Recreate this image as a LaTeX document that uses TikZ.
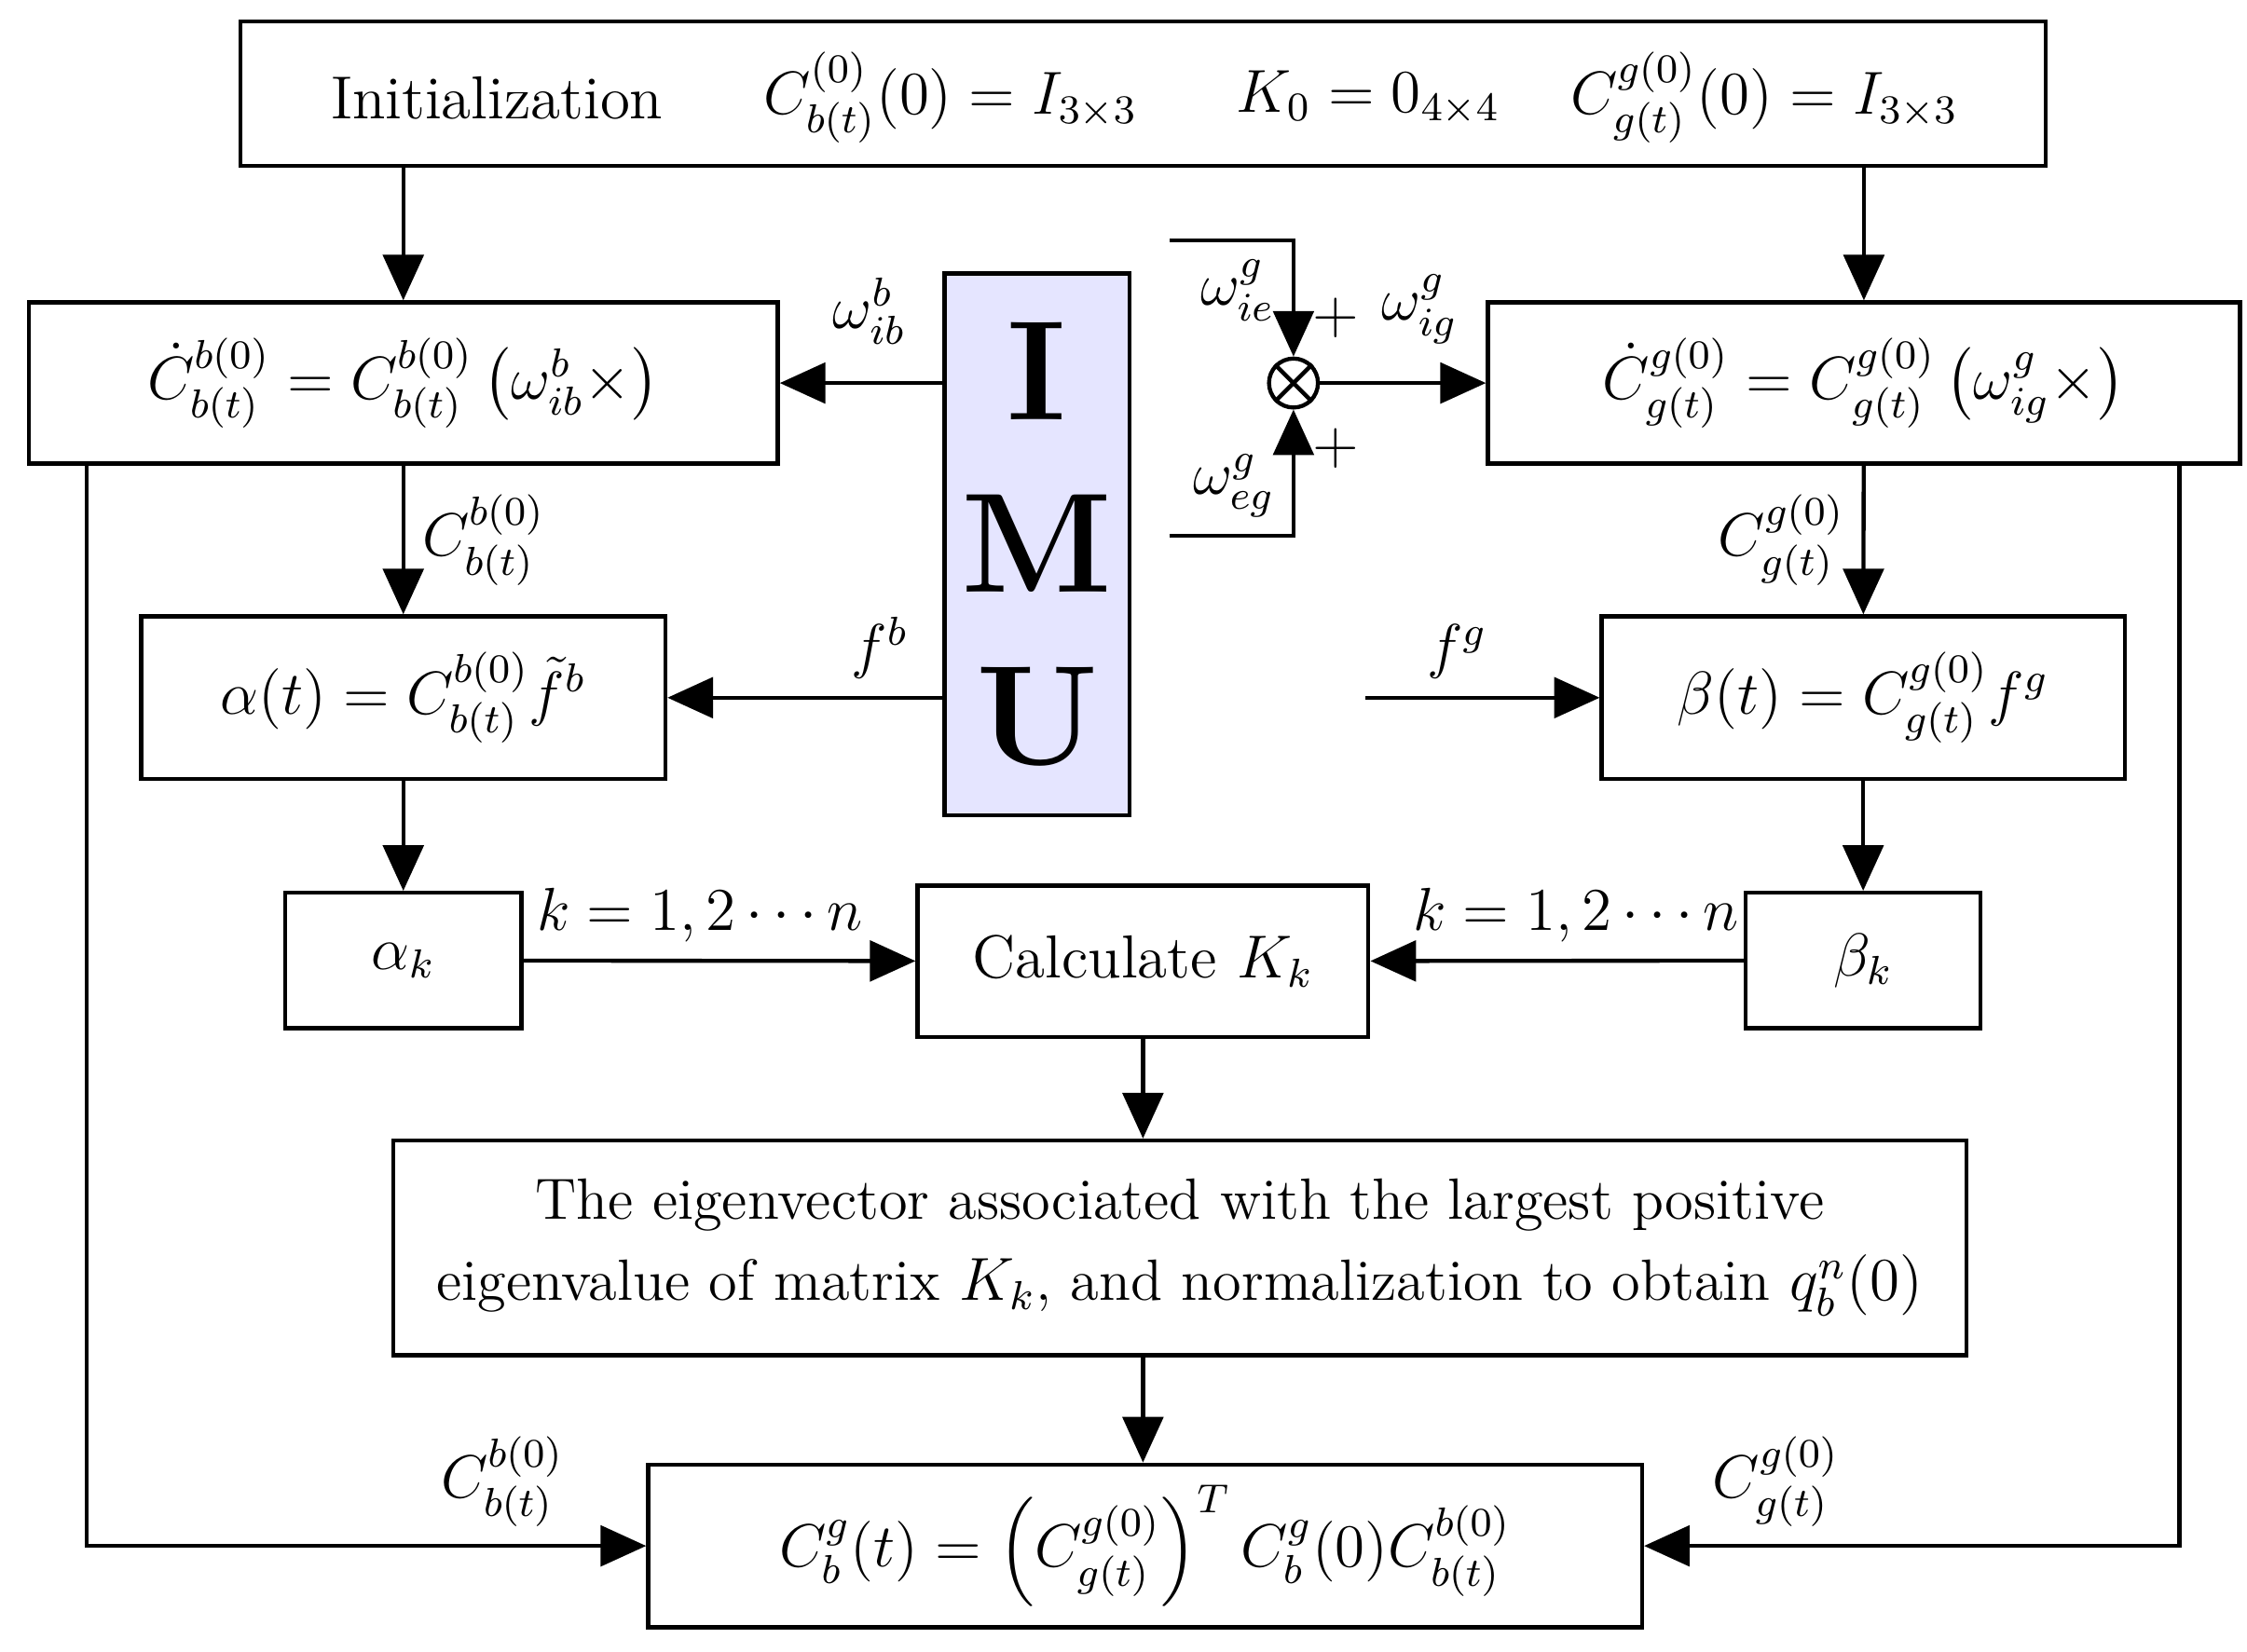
\documentclass[tikz,border=0pt]{standalone}
\usepackage{amsmath}
\usetikzlibrary{arrows.meta}
\tikzset{
  box/.style={draw,thick,inner sep=0pt,font=\fontsize{12}{15}\selectfont},
  arr/.style={thick,-{Triangle[length=9pt,width=8pt]}},
  lab/.style={font=\fontsize{12}{15}\selectfont}
}
\newcommand{\bx}[6]{\node[box,minimum width=#4cm,minimum height=#5cm] (#1) at (#2,#3) {#6};}
\begin{document}
\begin{tikzpicture}
     \useasboundingbox (0,0) rectangle (15.6,-11.47);
     % boxes
     \bx{init}{7.935}{-0.65}{12.53}{1.0}{}
     \node[lab] at (3.45,-0.68) {Initialization};
     \node[lab] at (6.6,-0.68) {$C_{b(t)}^{(0)}(0)=I_{3\times3}$};
     \node[lab] at (9.5,-0.68) {$K_0=0_{4\times4}$};
     \node[lab] at (12.25,-0.68) {$C_{g(t)}^{g(0)}(0)=I_{3\times3}$};
     \bx{cb}{2.8}{-2.66}{5.2}{1.12}{$\dot C_{b(t)}^{b(0)}=C_{b(t)}^{b(0)}\left(\omega_{ib}^{b}\times\right)$}
     \bx{cg}{12.94}{-2.66}{5.22}{1.12}{$\dot C_{g(t)}^{g(0)}=C_{g(t)}^{g(0)}\left(\omega_{ig}^{g}\times\right)$}
     \node[draw,thick,fill=blue!10,minimum width=1.22cm,minimum height=3.76cm,
       font=\fontsize{28}{30}\selectfont\bfseries,align=center] (imu) at (7.2,-3.78) {I\\[4pt]M\\[4pt]U};
     \bx{al}{2.8}{-4.845}{3.64}{1.13}{$\alpha(t)=C_{b(t)}^{b(0)}\tilde f^{b}$}
     \bx{be}{12.935}{-4.845}{3.63}{1.13}{$\beta(t)=C_{g(t)}^{g(0)}f^{g}$}
     \bx{ak}{2.8}{-6.67}{1.64}{0.94}{$\alpha_k$}
     \bx{bk}{12.935}{-6.67}{1.63}{0.94}{$\beta_k$}
     \bx{calc}{7.935}{-6.675}{3.13}{1.05}{Calculate $K_k$}
     \node[box,minimum width=10.92cm,minimum height=1.49cm,align=center,font=\fontsize{11.5}{14}\selectfont] (eig) at (8.19,-8.665)
       {The eigenvector associated with the largest positive\\[2pt]
        eigenvalue of matrix $K_k$, and normalization to obtain $q_b^n(0)$};
     \bx{fin}{7.95}{-10.735}{6.9}{1.13}{$C_b^g(t)=\left(C_{g(t)}^{g(0)}\right)^T C_b^g(0)C_{b(t)}^{b(0)}$}
     \node[draw,thick,circle,inner sep=0pt,minimum size=0.34cm] (ot) at (8.98,-2.66) {};
     \draw[thick] (ot.north west)--(ot.south east) (ot.north east)--(ot.south west);
     % connectors
     \draw[arr] (init.south-|cb) -- (cb);
     \draw[arr] (init.south-|cg) -- (cg);
     \draw[arr] (cb) -- node[right,lab]{$C_{b(t)}^{b(0)}$} (al);
     \draw[arr] (cg) -- node[left,lab]{$C_{g(t)}^{g(0)}$} (be);
     \draw[arr] (al) -- (ak);
     \draw[arr] (be) -- (bk);
     \draw[arr] (imu.west|-cb) -- node[above,lab,pos=0.45,yshift=4pt]{$\omega_{ib}^{b}$} (cb);
     \draw[arr] (imu.west|-al) -- node[above right,lab,pos=0.4]{$f^{b}$} (al);
     \coordinate (wie) at (8.12,-1.67);
     \coordinate (weg) at (8.12,-3.72);
     \coordinate (fg) at (9.48,-4.845);
     \draw[arr] (wie) -- (ot|-wie) node[below left,lab]{$\omega_{ie}^{g}$} -- (ot.north) node[above right,lab]{$+$};
     \draw[arr] (weg) -- (ot|-weg) node[above left,lab]{$\omega_{eg}^{g}$} -- (ot.south) node[below right,lab]{$+$};
     \draw[arr] (ot) -- node[above,lab,pos=0.6,yshift=4pt]{$\omega_{ig}^{g}$} (cg);
     \draw[arr] (fg) -- node[above left,lab,pos=0.6]{$f^{g}$} (be);
     \draw[arr] (ak) -- node[above,lab,pos=0.45]{$k=1,2\cdots n$} (calc);
     \draw[arr] (bk) -- node[above,lab,pos=0.45]{$k=1,2\cdots n$} (calc);
     \draw[arr] (calc.south) -- (calc.south|-eig.north);
     \draw[arr] (eig.south-|calc) -- (fin.north-|calc);
     \draw[arr] (0.6,-3.22) |- node[above right,lab,pos=0.8]{$C_{b(t)}^{b(0)}$} (fin);
     \draw[arr] (15.13,-3.22) |- node[above left,lab,pos=0.8]{$C_{g(t)}^{g(0)}$} (fin);
\end{tikzpicture}
\end{document}
